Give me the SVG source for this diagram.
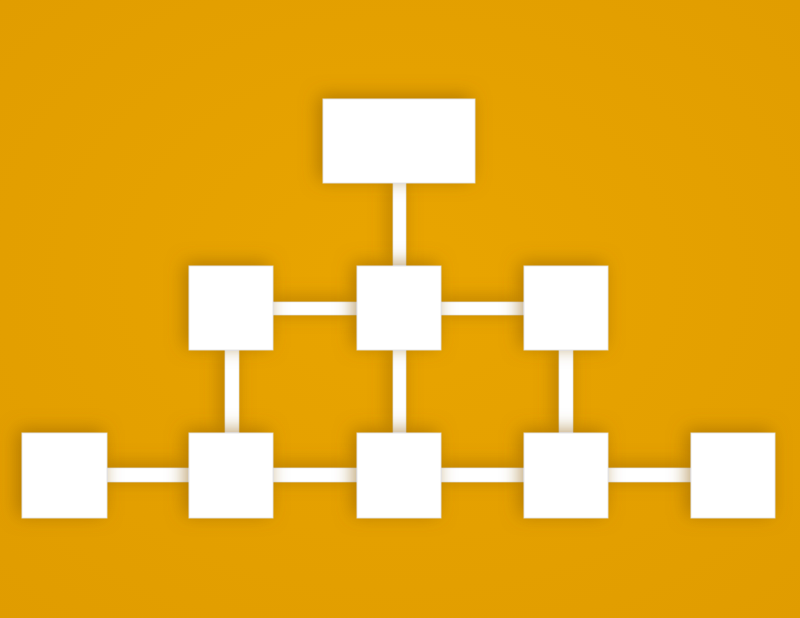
<svg xmlns="http://www.w3.org/2000/svg" width="800" height="618" viewBox="0 0 800 618">
<defs>
<radialGradient id="bg" cx="0.5" cy="0.45" r="0.75">
<stop offset="0" stop-color="#E9A500"/>
<stop offset="1" stop-color="#E09C00"/>
</radialGradient>
<filter id="sh" x="-40%" y="-40%" width="180%" height="180%">
<feGaussianBlur in="SourceAlpha" stdDeviation="9"/>
<feOffset dx="-4" dy="-3" result="b"/>
<feFlood flood-color="#8a5a00" flood-opacity="0.55"/>
<feComposite in2="b" operator="in"/>
<feMerge><feMergeNode/><feMergeNode in="SourceGraphic"/></feMerge>
</filter>
<linearGradient id="hc" x1="0" y1="0" x2="0" y2="1">
<stop offset="0" stop-color="#f4f4f4"/>
<stop offset="1" stop-color="#ffffff"/>
</linearGradient>
<style>
.box{fill:#ffffff;stroke:#e2e2e2;stroke-width:0.8}
.con{fill:#ffffff;stroke:#dcdcdc;stroke-width:0.6}
</style>
</defs>
<rect width="800" height="618" fill="url(#bg)"/>
<g id="connectors" filter="url(#sh)">
<rect class="con" x="393" y="183" width="13" height="84"/>
<rect class="con" x="273" y="302" width="84" height="13"/>
<rect class="con" x="441" y="302" width="84" height="13"/>
<rect class="con" x="225" y="350" width="14" height="84"/>
<rect class="con" x="393" y="350" width="13" height="84"/>
<rect class="con" x="559" y="350" width="14" height="84"/>
<rect class="con" x="107" y="468" width="83" height="14"/>
<rect class="con" x="273" y="468" width="84" height="14"/>
<rect class="con" x="441" y="468" width="84" height="14"/>
<rect class="con" x="608" y="468" width="84" height="14"/>
</g>
<g filter="url(#sh)">
<g id="n-top"><rect class="box" x="323" y="99" width="152" height="84"/></g>
<g id="n-m1"><rect class="box" x="189" y="266" width="84" height="84"/></g>
<g id="n-m2"><rect class="box" x="357" y="266" width="84" height="84"/></g>
<g id="n-m3"><rect class="box" x="524" y="266" width="84" height="84"/></g>
<g id="n-b1"><rect class="box" x="22" y="433" width="85" height="85"/></g>
<g id="n-b2"><rect class="box" x="189" y="433" width="84" height="85"/></g>
<g id="n-b3"><rect class="box" x="357" y="433" width="84" height="85"/></g>
<g id="n-b4"><rect class="box" x="524" y="433" width="84" height="85"/></g>
<g id="n-b5"><rect class="box" x="691" y="433" width="84" height="85"/></g>
</g>
</svg>
